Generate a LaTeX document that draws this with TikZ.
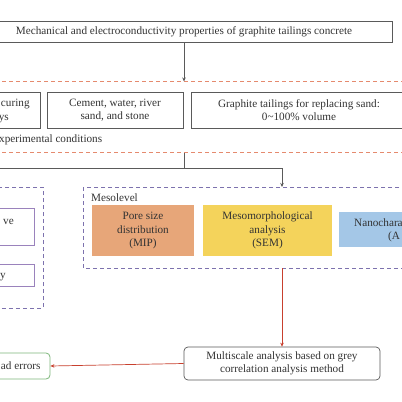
\documentclass[tikz,border=0pt]{standalone}
\usepackage{fontspec}
\setmainfont{Liberation Serif}
\usetikzlibrary{arrows.meta}
\definecolor{boxgray}{HTML}{5A5A5A}
\definecolor{dashorange}{HTML}{E58A6E}
\definecolor{dashpurple}{HTML}{7D72AE}
\definecolor{boxpurple}{HTML}{9A82BC}
\definecolor{arrred}{HTML}{C8402E}
\definecolor{boxgreen}{HTML}{7DB77A}
\definecolor{fillorange}{HTML}{E7A679}
\definecolor{fillyellow}{HTML}{F4D35B}
\definecolor{fillblue}{HTML}{A4C7E7}
\definecolor{txt}{HTML}{333333}
\tikzset{
  every node/.style={text=txt, font=\fontsize{11.2}{13.5}\selectfont},
  plainbox/.style={draw=boxgray, line width=0.7pt, align=center, inner sep=0pt},
  purplebox/.style={draw=boxpurple, line width=0.8pt, inner sep=0pt},
  fillbox/.style={align=center, inner sep=0pt},
  roundbox/.style={draw=boxgray, line width=0.7pt, rounded corners=4pt, align=center, inner sep=0pt},
  greenbox/.style={draw=boxgreen, line width=0.8pt, rounded corners=4pt, inner sep=0pt},
  odash/.style={draw=dashorange, line width=0.7pt, dash pattern=on 4pt off 3pt},
  pdash/.style={draw=dashpurple, line width=0.7pt, dash pattern=on 4pt off 3pt},
  conn/.style={draw=boxgray, line width=0.7pt},
  garr/.style={conn, -{Stealth[length=4pt,width=3.5pt]}},
  rarr/.style={draw=arrred, line width=0.7pt, -{Stealth[length=4pt,width=3.5pt]}},
  frag/.style={inner sep=0pt}
}
\begin{document}
\begin{tikzpicture}[x=1pt,y=-1pt]
\useasboundingbox (0,0) rectangle (402,402);
\clip (0,0) rectangle (402,402);
\fill[white] (0,0) rectangle (402,402);

% top box
\node[plainbox, minimum width=416pt, minimum height=21pt] (top) at (184,31.5)
  {Mechanical and electroconductivity properties of graphite tailings concrete};

% first orange dashed line
\coordinate (l1a) at (-5,81.5);
\coordinate (l1b) at (410,81.5);
\path[odash] (l1a) -- (l1b);
\coordinate (l1m) at (184,81.5);
\path[garr] (top.south) -- (l1m);

% row of boxes
\node[plainbox, minimum width=100pt, minimum height=36pt] (b1) at (-10,110) {};
\node[frag, anchor=base west] (b1t1) at (0.8,106) {curing};
\node[frag, anchor=base east] (b1t2) at (9,120) {ys};
\node[plainbox, minimum width=136pt, minimum height=36pt] (b2) at (115,110)
  {Cement, water, river\\sand, and stone};
\node[plainbox, minimum width=216pt, minimum height=36pt] (b3) at (299,110)
  {Graphite tailings for replacing sand:\\0\textasciitilde100\% volume};

\node[frag, anchor=base west] (expc) at (-1,142) {xperimental conditions};

% second orange dashed line
\coordinate (l2a) at (-5,152.5);
\coordinate (l2b) at (410,152.5);
\path[odash] (l2a) -- (l2b);

% connector to levels
\coordinate (c1) at (184,152.5);
\coordinate (c2) at (184,168);
\coordinate (jl) at (-5,168);
\coordinate (jr) at (282,168);
\coordinate (mesotop) at (282,187);
\path[conn] (c1) -- (c2);
\path[conn] (jl) -- (jr);
\path[garr] (jr) -- (mesotop);

% left dashed group
\path[pdash] (-10,187) rectangle (43,308);
\node[purplebox, minimum width=44pt, minimum height=37pt] (lb1) at (12,226.5) {};
\node[frag, anchor=base east] (lb1t) at (14,224) {ve};
\node[purplebox, minimum width=44pt, minimum height=22pt] (lb2) at (12,275) {};
\node[frag, anchor=base east] (lb2t) at (6,278) {y};

% mesolevel group
\path[pdash] (83,187) rectangle (412,268);
\node[frag, anchor=base west] (meso) at (91,201) {Mesolevel};
\node[fillbox, fill=fillorange, minimum width=102pt, minimum height=51pt] (mip) at (143,230.5)
  {Pore size\\distribution\\(MIP)};
\node[fillbox, fill=fillyellow, minimum width=129pt, minimum height=51pt] (sem) at (267.5,230.5)
  {Mesomorphological\\analysis\\(SEM)};
\node[fillbox, fill=fillblue, minimum width=128pt, minimum height=35pt] (afm) at (403,229.5) {};
\node[frag, anchor=base west] (afmt1) at (354,226) {Nanochara};
\node[frag, anchor=base west] (afmt2) at (388,239) {(A};

% multiscale
\coordinate (mesobot) at (282,268);
\node[roundbox, minimum width=196pt, minimum height=33pt] (multi) at (282,363.5)
  {Multiscale analysis based on grey\\correlation analysis method};
\path[rarr] (mesobot) -- (multi.north);

% green box
\node[greenbox, minimum width=70pt, minimum height=26pt] (err) at (15,366) {};
\node[frag, anchor=base west] (errt) at (0.8,369) {ad errors};
\path[rarr] (multi.west) -- (err.east);
\end{tikzpicture}
\end{document}
